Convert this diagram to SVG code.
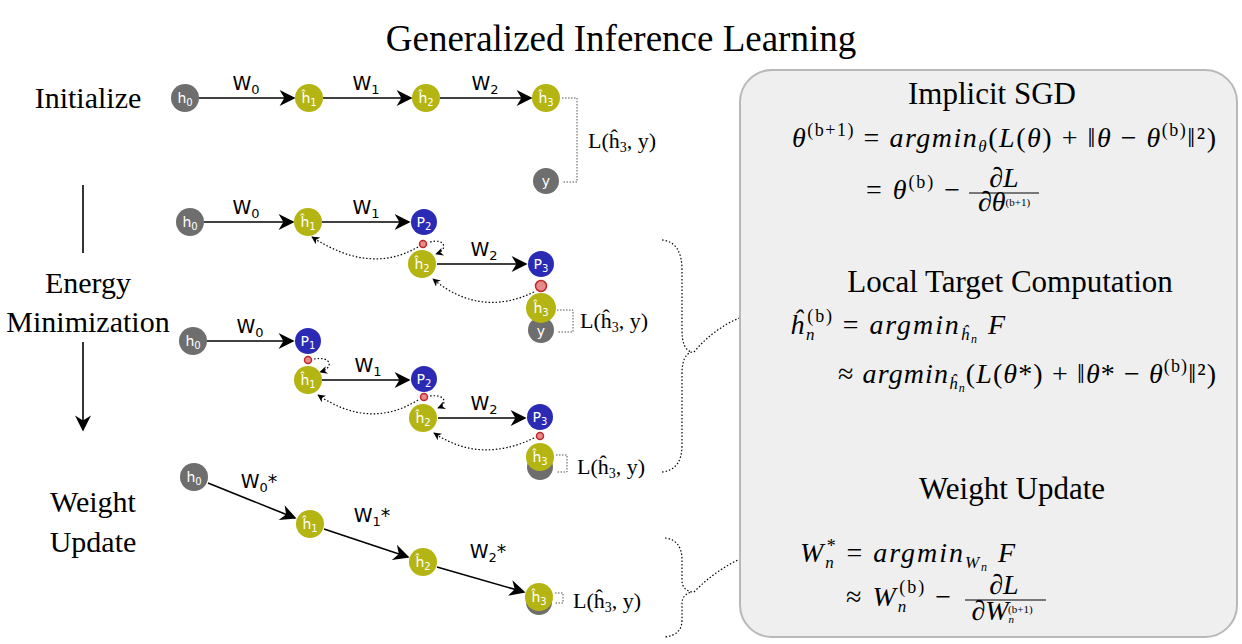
<svg xmlns="http://www.w3.org/2000/svg" width="1242" height="644" viewBox="0 0 1242 644">
<style>
.g{fill:#6e6e6e}.o{fill:#b4b412}.b{fill:#2a2ab5}.r{fill:#e88a8a;stroke:#c0282a;stroke-width:1.5}
.nt{font-family:"DejaVu Sans",sans-serif;font-size:14px;fill:#fff;text-anchor:middle}
.wl{font-family:"DejaVu Sans",sans-serif;font-size:19px;fill:#000;text-anchor:middle}
.sf{font-family:"Liberation Serif",serif;fill:#000}
.m{font-family:"Liberation Serif",serif;font-style:italic;font-size:28px;fill:#000}
.e{stroke:#000;stroke-width:1.6;fill:none}
.d{stroke:#000;stroke-width:1.2;fill:none;stroke-dasharray:1.5 2}
.dg{stroke:#555;stroke-width:1;fill:none;stroke-dasharray:1.5 1.5}
</style>
<defs>
<marker id="a" viewBox="0 0 10 10" refX="9" refY="5" markerWidth="8" markerHeight="8" markerUnits="userSpaceOnUse" orient="auto"><path d="M0,0 L10,5 L0,10 L3,5z" fill="#000"/></marker>
<marker id="A" viewBox="0 0 10 10" refX="9" refY="5" markerWidth="20" markerHeight="16" markerUnits="userSpaceOnUse" orient="auto"><path d="M0,0 L10,5 L0,10 L3,5z" fill="#000"/></marker>
</defs>
<text x="621" y="51" class="sf" font-size="37" text-anchor="middle">Generalized Inference Learning</text>
<g id="labels" class="sf" font-size="30" text-anchor="middle">
<text x="88" y="108">Initialize</text>
<text x="88" y="293">Energy</text>
<text x="88" y="332">Minimization</text>
<text x="93" y="512">Weight</text>
<text x="93" y="552">Update</text>
</g>
<g id="side-arrow"><line x1="83" y1="185" x2="83" y2="253" class="e"/><line x1="83" y1="342" x2="83" y2="430" class="e" marker-end="url(#A)"/></g>

<g id="connectors">
<line x1="199" y1="98" x2="294" y2="98" class="e" marker-end="url(#A)"/>
<line x1="323" y1="98" x2="411" y2="98" class="e" marker-end="url(#A)"/>
<line x1="440" y1="98" x2="531" y2="98" class="e" marker-end="url(#A)"/>
<path d="M562,98 H577 V182 H562" class="dg"/>
<line x1="204" y1="222" x2="293" y2="222" class="e" marker-end="url(#A)"/>
<line x1="322" y1="222" x2="409" y2="222" class="e" marker-end="url(#A)"/>
<line x1="437" y1="264" x2="526" y2="264" class="e" marker-end="url(#A)"/>
<path d="M418,247 Q370,275 312,237" class="d" marker-end="url(#a)"/>
<path d="M430,242 C446,238 448,250 436,254" class="d" marker-end="url(#a)"/>
<path d="M534,292 Q480,318 433,279" class="d" marker-end="url(#a)"/>
<path d="M557,310 H573 V332 H557" class="dg"/>
<line x1="207" y1="341" x2="293" y2="341" class="e" marker-end="url(#A)"/>
<line x1="322" y1="380" x2="409" y2="380" class="e" marker-end="url(#A)"/>
<line x1="438" y1="418" x2="525" y2="418" class="e" marker-end="url(#A)"/>
<path d="M314,359 C332,356 334,368 320,372" class="d" marker-end="url(#a)"/>
<path d="M418,400 Q370,430 318,395" class="d" marker-end="url(#a)"/>
<path d="M430,396 C446,394 448,404 438,408" class="d" marker-end="url(#a)"/>
<path d="M534,438 Q480,464 434,433" class="d" marker-end="url(#a)"/>
<path d="M556,455 H567 V472 H556" class="dg"/>
<line x1="208" y1="483" x2="295" y2="518" class="e" marker-end="url(#A)"/>
<line x1="324" y1="529" x2="408" y2="557" class="e" marker-end="url(#A)"/>
<line x1="437" y1="567" x2="524" y2="592" class="e" marker-end="url(#A)"/>
<path d="M555,593 H563 V603 H555" class="dg"/>
<path d="M662,240 Q682,242 682,270 V330 Q682,350 692,352 Q682,354 682,374 V445 Q682,470 662,472" class="d"/>
<path d="M694,352 Q725,315 772,310" class="d" marker-end="url(#a)"/>
<path d="M665,538 Q682,540 682,560 V580 Q682,590 692,592 Q682,594 682,604 V620 Q682,635 665,637" class="d"/>
<path d="M694,592 Q730,555 780,547" class="d" marker-end="url(#a)"/>
</g>

<g class="wl">
<text x="246" y="90">W<tspan font-size="13" dy="4">0</tspan></text>
<text x="366" y="90">W<tspan font-size="13" dy="4">1</tspan></text>
<text x="485" y="90">W<tspan font-size="13" dy="4">2</tspan></text>
<text x="246" y="214">W<tspan font-size="13" dy="4">0</tspan></text>
<text x="366" y="214">W<tspan font-size="13" dy="4">1</tspan></text>
<text x="484" y="256">W<tspan font-size="13" dy="4">2</tspan></text>
<text x="250" y="333">W<tspan font-size="13" dy="4">0</tspan></text>
<text x="368" y="372">W<tspan font-size="13" dy="4">1</tspan></text>
<text x="484" y="410">W<tspan font-size="13" dy="4">2</tspan></text>
<text x="259" y="488">W<tspan font-size="13" dy="4">0</tspan><tspan dy="-4">*</tspan></text>
<text x="372" y="522">W<tspan font-size="13" dy="4">1</tspan><tspan dy="-4">*</tspan></text>
<text x="488" y="558">W<tspan font-size="13" dy="4">2</tspan><tspan dy="-4">*</tspan></text>
</g>
<g class="sf" font-size="22">
<text x="588" y="148">L(ĥ<tspan font-size="14" dy="4">3</tspan><tspan dy="-4">, y)</tspan></text>
<text x="580" y="328">L(ĥ<tspan font-size="14" dy="4">3</tspan><tspan dy="-4">, y)</tspan></text>
<text x="577" y="474">L(ĥ<tspan font-size="14" dy="4">3</tspan><tspan dy="-4">, y)</tspan></text>
<text x="573" y="608">L(ĥ<tspan font-size="14" dy="4">3</tspan><tspan dy="-4">, y)</tspan></text>
</g>

<g id="init">
<g id="i-h0"><circle cx="185" cy="98" r="14" class="g"/><text x="185" y="103" class="nt">h<tspan font-size="10" dy="3">0</tspan></text></g>
<g id="i-h1"><circle cx="309" cy="98" r="14" class="o"/><text x="309" y="103" class="nt">ĥ<tspan font-size="10" dy="3">1</tspan></text></g>
<g id="i-h2"><circle cx="426" cy="98" r="14" class="o"/><text x="426" y="103" class="nt">ĥ<tspan font-size="10" dy="3">2</tspan></text></g>
<g id="i-h3"><circle cx="546" cy="98" r="14" class="o"/><text x="546" y="103" class="nt">ĥ<tspan font-size="10" dy="3">3</tspan></text></g>
<g id="i-y"><circle cx="546" cy="181" r="13" class="g"/><text x="546" y="186" class="nt">y</text></g>
</g>
<g id="em1">
<g id="a-h0"><circle cx="190" cy="222" r="14" class="g"/><text x="190" y="227" class="nt">h<tspan font-size="10" dy="3">0</tspan></text></g>
<g id="a-h1"><circle cx="308" cy="222" r="14" class="o"/><text x="308" y="227" class="nt">ĥ<tspan font-size="10" dy="3">1</tspan></text></g>
<g id="a-p2"><circle cx="424" cy="222" r="13" class="b"/><text x="424" y="227" class="nt">P<tspan font-size="10" dy="3">2</tspan></text></g>
<g id="a-r2"><circle cx="423" cy="244" r="3.5" class="r"/></g>
<g id="a-h2"><circle cx="422" cy="264" r="14" class="o"/><text x="422" y="269" class="nt">ĥ<tspan font-size="10" dy="3">2</tspan></text></g>
<g id="a-p3"><circle cx="541" cy="264" r="13" class="b"/><text x="541" y="269" class="nt">P<tspan font-size="10" dy="3">3</tspan></text></g>
<g id="a-r3"><circle cx="541" cy="286" r="5.5" class="r"/></g>
<g id="a-y"><circle cx="541" cy="330" r="13" class="g"/><text x="541" y="336" class="nt">y</text></g>
<g id="a-h3"><circle cx="541" cy="308" r="15" class="o"/><text x="541" y="313" class="nt">ĥ<tspan font-size="10" dy="3">3</tspan></text></g>
</g>
<g id="em2">
<g id="b-h0"><circle cx="193" cy="341" r="14" class="g"/><text x="193" y="346" class="nt">h<tspan font-size="10" dy="3">0</tspan></text></g>
<g id="b-p1"><circle cx="308" cy="341" r="13" class="b"/><text x="308" y="346" class="nt">P<tspan font-size="10" dy="3">1</tspan></text></g>
<g id="b-r1"><circle cx="308" cy="360" r="3.5" class="r"/></g>
<g id="b-h1"><circle cx="308" cy="380" r="14" class="o"/><text x="308" y="385" class="nt">ĥ<tspan font-size="10" dy="3">1</tspan></text></g>
<g id="b-p2"><circle cx="424" cy="379" r="13" class="b"/><text x="424" y="384" class="nt">P<tspan font-size="10" dy="3">2</tspan></text></g>
<g id="b-r2"><circle cx="424" cy="397" r="3.5" class="r"/></g>
<g id="b-h2"><circle cx="423" cy="418" r="14" class="o"/><text x="423" y="423" class="nt">ĥ<tspan font-size="10" dy="3">2</tspan></text></g>
<g id="b-p3"><circle cx="540" cy="417" r="13" class="b"/><text x="540" y="422" class="nt">P<tspan font-size="10" dy="3">3</tspan></text></g>
<g id="b-r3"><circle cx="540" cy="436" r="3.5" class="r"/></g>
<g id="b-y"><circle cx="540" cy="467" r="13" class="g"/></g>
<g id="b-h3"><circle cx="540" cy="457" r="14" class="o"/><text x="540" y="462" class="nt">ĥ<tspan font-size="10" dy="3">3</tspan></text></g>
</g>
<g id="wu">
<g id="c-h0"><circle cx="194" cy="477" r="14" class="g"/><text x="194" y="482" class="nt">h<tspan font-size="10" dy="3">0</tspan></text></g>
<g id="c-h1"><circle cx="310" cy="524" r="14" class="o"/><text x="310" y="529" class="nt">ĥ<tspan font-size="10" dy="3">1</tspan></text></g>
<g id="c-h2"><circle cx="423" cy="562" r="14" class="o"/><text x="423" y="567" class="nt">ĥ<tspan font-size="10" dy="3">2</tspan></text></g>
<g id="c-y"><circle cx="539" cy="602" r="13" class="g"/></g>
<g id="c-h3"><circle cx="539" cy="597" r="14" class="o"/><text x="539" y="602" class="nt">ĥ<tspan font-size="10" dy="3">3</tspan></text></g>
</g>

<g id="panel">
<rect x="740" y="70" width="497" height="567" rx="32" fill="#efefef" stroke="#b8b8b8" stroke-width="2"/>
<g class="sf" font-size="31" text-anchor="middle">
<text x="992" y="104">Implicit SGD</text>
<text x="1010" y="292">Local Target Computation</text>
<text x="1012" y="499">Weight Update</text>
</g>
<text x="792" y="147" class="m" textLength="424" lengthAdjust="spacing">θ<tspan font-size="18" dy="-11" font-style="normal">(b+1)</tspan><tspan dy="11" font-style="normal"> = </tspan>argmin<tspan font-size="17" dy="5">θ</tspan><tspan dy="-5" font-style="normal">(</tspan>L<tspan font-style="normal">(</tspan>θ<tspan font-style="normal">) + ‖</tspan>θ<tspan font-style="normal"> − </tspan>θ<tspan font-size="18" dy="-11" font-style="normal">(b)</tspan><tspan dy="11" font-style="normal">‖²)</tspan></text>
<text x="866" y="199" class="m" textLength="94" lengthAdjust="spacing"><tspan font-style="normal">= </tspan>θ<tspan font-size="18" dy="-11" font-style="normal">(b)</tspan><tspan dy="11" font-style="normal"> − </tspan></text>
<text x="1004" y="187" class="m" font-size="16" text-anchor="middle">∂L</text>
<line x1="969" y1="193" x2="1039" y2="193" stroke="#000" stroke-width="1"/>
<text x="1004" y="211" class="m" font-size="16" text-anchor="middle">∂θ<tspan font-size="11" dy="-5" font-style="normal">(b+1)</tspan></text>
<text x="790" y="334" class="m" textLength="215" lengthAdjust="spacing">ĥ<tspan font-size="17" dy="6">n</tspan><tspan font-size="18" dy="-18" dx="-9" font-style="normal">(b)</tspan><tspan dy="12" font-style="normal"> = </tspan>argmin<tspan font-size="17" dy="6">ĥ</tspan><tspan font-size="12" dy="3">n</tspan><tspan dy="-9"> F</tspan></text>
<text x="838" y="383" class="m" textLength="378" lengthAdjust="spacing"><tspan font-style="normal">≈ </tspan>argmin<tspan font-size="17" dy="6">ĥ</tspan><tspan font-size="12" dy="3">n</tspan><tspan dy="-9" font-style="normal">(</tspan>L<tspan font-style="normal">(</tspan>θ<tspan font-style="normal">*) + ‖</tspan>θ<tspan font-style="normal">* − </tspan>θ<tspan font-size="18" dy="-11" font-style="normal">(b)</tspan><tspan dy="11" font-style="normal">‖²)</tspan></text>
<text x="800" y="562" class="m" textLength="215" lengthAdjust="spacing">W<tspan font-size="17" dy="6">n</tspan><tspan font-size="18" dy="-16" dx="-9" font-style="normal">*</tspan><tspan dy="10" font-style="normal"> = </tspan>argmin<tspan font-size="17" dy="6">W</tspan><tspan font-size="12" dy="3">n</tspan><tspan dy="-9"> F</tspan></text>
<text x="846" y="606" class="m" textLength="105" lengthAdjust="spacing"><tspan font-style="normal">≈ </tspan>W<tspan font-size="17" dy="6">n</tspan><tspan font-size="18" dy="-19" dx="-9" font-style="normal">(b)</tspan><tspan dy="13" font-style="normal"> − </tspan></text>
<text x="1004" y="594" class="m" font-size="16" text-anchor="middle">∂L</text>
<line x1="965" y1="600" x2="1046" y2="600" stroke="#000" stroke-width="1"/>
<text x="1002" y="620" class="m" font-size="16" text-anchor="middle">∂W<tspan font-size="11" dy="3">n</tspan><tspan font-size="11" dy="-10" dx="-6" font-style="normal">(b+1)</tspan></text>
</g>
</svg>
